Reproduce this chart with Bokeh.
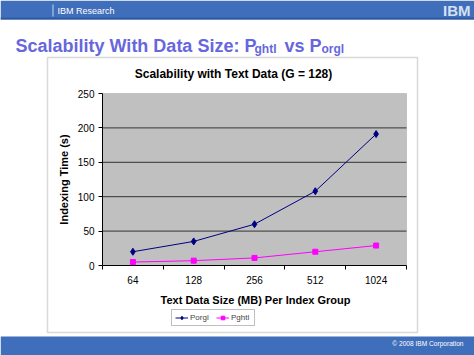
import math
from bokeh.plotting import figure
from bokeh.models import (Range1d, FixedTicker, LinearAxis, Label, BoxAnnotation,
                          Legend, LegendItem, ColumnDataSource)
from bokeh.embed import file_html
from bokeh.resources import INLINE

# ---- data ----
categories = ["64", "128", "256", "512", "1024"]
porgl = [20, 35, 60, 108, 191]
pghtl = [5, 7, 11, 20, 29]
y_ticks = [0, 50, 100, 150, 200, 250]
series_names = ["Porgl", "Pghtl"]
chart_title = "Scalability with Text Data (G = 128)"
x_title = "Text Data Size (MB) Per Index Group"
y_title = "Indexing Time (s)"

FONT = "Liberation Sans"
W, H = 474, 355
# pixel box of the chart plot area on the slide
FL, FR, FT, FB = 102, 406, 93, 265

n = len(categories)
ymin, ymax = y_ticks[0], y_ticks[-1]
PX = (FR - FL) / n
PY = (FB - FT) / (ymax - ymin)

xpos = [i + 0.5 for i in range(n)]
src = ColumnDataSource(dict(x=xpos, cat=categories, porgl=porgl, pghtl=pghtl))

p = figure(width=W, height=H, output_backend="svg", toolbar_location=None,
           x_range=Range1d(0, W), y_range=Range1d(H, 0),
           min_border=0, x_axis_type=None, y_axis_type=None)
p.background_fill_color = "white"
p.border_fill_color = "white"
p.outline_line_color = None
p.extra_x_ranges = {"chart": Range1d(-FL / PX, n + (W - FR) / PX)}
p.extra_y_ranges = {"chart": Range1d(ymin - (H - FB) / PY, ymax + FT / PY)}
C = dict(x_range_name="chart", y_range_name="chart")

# plot area
p.add_layout(BoxAnnotation(left=0, right=n, bottom=ymin, top=ymax, fill_color="#C0C0C0",
                           fill_alpha=1, line_color="#808080", line_width=1,
                           level="underlay", **C))
grid_vals = y_ticks[1:-1]
p.segment(x0=[0] * len(grid_vals), x1=[n] * len(grid_vals), y0=grid_vals, y1=grid_vals,
          line_color="#333333", line_width=1, **C)

# axes
xaxis = LinearAxis(
    ticker=FixedTicker(ticks=xpos, minor_ticks=list(range(n + 1))),
    major_label_overrides={x: c for x, c in zip(xpos, categories)},
    fixed_location=ymin, bounds=(0, n), **C)
xaxis.major_tick_out = 0
xaxis.major_tick_in = 0
xaxis.minor_tick_out = 4
xaxis.minor_tick_in = 0
xaxis.minor_tick_line_color = "black"
yaxis = LinearAxis(ticker=FixedTicker(ticks=y_ticks), fixed_location=0,
                   bounds=(ymin, ymax), **C)
yaxis.major_tick_out = 4
yaxis.major_tick_in = 0
yaxis.minor_tick_line_color = None
for ax in (xaxis, yaxis):
    ax.axis_line_color = "black"
    ax.major_tick_line_color = "black"
    ax.major_label_text_font = FONT
    ax.major_label_text_font_size = "10px"
    ax.major_label_text_color = "black"
xaxis.major_label_standoff = 6
yaxis.major_label_standoff = 4
p.add_layout(xaxis, "below")
p.add_layout(yaxis, "left")

# series
r1 = p.line("x", "porgl", source=src, line_color="#000080", line_width=1, **C)
m1 = p.scatter("x", "porgl", source=src, marker="diamond", size=7,
               fill_color="#000080", line_color="#000080", **C)
r2 = p.line("x", "pghtl", source=src, line_color="#FF00FF", line_width=1, **C)
m2 = p.scatter("x", "pghtl", source=src, marker="square", size=5,
               fill_color="#FF00FF", line_color="#FF00FF", **C)

legend = Legend(items=[LegendItem(label=series_names[0], renderers=[r1, m1]),
                       LegendItem(label=series_names[1], renderers=[r2, m2])],
                location=(171, H - 326), orientation="horizontal")
legend.label_text_font = FONT
legend.label_text_font_size = "8px"
legend.label_standoff = 2
legend.glyph_width = 13
legend.glyph_height = 9
legend.label_height = 9
legend.padding = 3
legend.spacing = 6
legend.margin = 0
legend.border_line_color = "#808080"
legend.border_line_width = 1
legend.background_fill_color = "white"
p.add_layout(legend, "center")

# slide decoration (pixel coordinates from top-left)
def box(l, r, t, b, **kw):
    p.add_layout(BoxAnnotation(left=l, right=r, top=t, bottom=b, **kw))

box(0, W, 0, 19, fill_color="#3F6EBB", fill_alpha=1, line_alpha=0)
box(0, W, 17, 19, fill_color="#2E5AA0", fill_alpha=1, line_alpha=0)
box(0, W, 336, H, fill_color="#3F6EBB", fill_alpha=1, line_alpha=0)
box(52, 53, 4, 16, fill_color="#C8D6EE", fill_alpha=1, line_alpha=0)
box(47, 417, 57, 332, fill_alpha=0, line_color="#808080", line_width=1.5)

def label(x, y, text, size, color="black", style="normal", align="left",
          baseline="middle", angle=0):
    p.add_layout(Label(x=x, y=y, text=text, angle=angle,
                       text_font=FONT, text_font_size=size, text_color=color,
                       text_font_style=style, text_align=align, text_baseline=baseline))

label(57, 10, "IBM Research", "9px", color="white")
label(470, 10, "IBM", "15px", color="#D5E0F2", style="bold", align="right")
label(463, 343, "\u00a9 2008 IBM Corporation", "6.6px", color="white", align="right")

TC = "#6666DD"
label(15, 45, "Scalability With Data Size: P", "18px", color=TC, style="bold", baseline="alphabetic")
label(254, 48, "ghtl", "12px", color=TC, style="bold", baseline="alphabetic")
label(284, 45, "vs P", "18px", color=TC, style="bold", baseline="alphabetic")
label(321, 48, "orgl", "12px", color=TC, style="bold", baseline="alphabetic")

label(233, 73, chart_title, "12px", style="bold", align="center")
label(255, 299, x_title, "11px", style="bold", align="center")
label(63, (FT + FB) / 2, y_title, "11px", style="bold", align="center", angle=math.pi / 2)

open("out.html", "w").write(file_html(p, INLINE))
